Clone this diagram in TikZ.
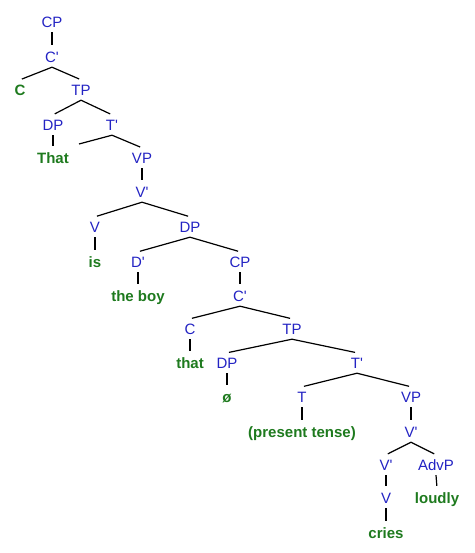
\documentclass[tikz,border=0pt]{standalone}
\usepackage{fontspec}
\setmainfont{Liberation Sans}
\usepackage{tikz}
\usetikzlibrary{calc,positioning}
\definecolor{catblue}{RGB}{35,35,195}
\definecolor{wordgreen}{RGB}{30,122,30}
\newcommand{\bbar}{\textquotesingle}

\begin{document}
\begin{tikzpicture}[x=1pt,y=-1pt]

\tikzset{cat/.style={font=\fontsize{15}{18}\selectfont,text=catblue,inner xsep=1pt,inner ysep=4.5pt,text height=11pt,text depth=0pt},
word/.style={cat,text=wordgreen,font=\fontsize{15}{18}\selectfont\bfseries},
branch/.style={line width=1.2pt,shorten >=2pt}}

\useasboundingbox (0,0) rectangle (474,553);

% upper clause
\node[cat] (cp1) at (52,22) {CP};
\node[cat] (cb1) at (52,57) {C\bbar};
\node[word] (c1) at (20,90) {C};
\node[cat] (tp1) at (81,90) {TP};
\node[cat] (dp1) at (53,125) {DP};
\node[cat] (tb1) at (112,125) {T\bbar};
\node[word] (that1) at (53,158) {That};
\coordinate (tgap) at (79,144);
\node[cat] (vp1) at (142,158) {VP};
\node[cat] (vb1) at (142,192) {V\bbar};
\node[cat] (v1) at (95,227) {V};
\node[cat] (dp2) at (190,227) {DP};
\node[word] (is) at (95,262) {is};
\node[cat] (db2) at (138,262) {D\bbar};
\node[cat] (cp2) at (240,262) {CP};
\node[word] (theboy) at (138,296) {the boy};

% relative clause
\node[cat] (cb2) at (240,296) {C\bbar};
\node[cat] (c2) at (190,329) {C};
\node[cat] (tp2) at (292,329) {TP};
\node[word] (that2) at (190,363) {that};
\node[cat] (dp3) at (227,363) {DP};
\node[cat] (tb2) at (357,363) {T\bbar};
\node[word] (null) at (227,397) {ø};
\node[cat] (t2) at (302,397) {T};
\node[cat] (vp2) at (411,397) {VP};
\node[word] (tense) at (302,432) {(present tense)};
\node[cat] (vb2) at (411,432) {V\bbar};
\node[cat] (vb3) at (386,465) {V\bbar};
\node[cat] (advp) at (436,465) {AdvP};
\node[cat] (v2) at (386,498) {V};
\node[word] (loudly) at (437,498) {loudly};
\node[word] (cries) at (386,533) {cries};

% Edges
\foreach \a/\b in {cp1/cb1,cb1/c1,cb1/tp1,tp1/dp1,tp1/tb1,dp1/that1,tb1/vp1,vp1/vb1,vb1/v1,vb1/dp2,v1/is,dp2/db2,dp2/cp2,db2/theboy,cp2/cb2,
  cb2/c2,cb2/tp2,c2/that2,tp2/dp3,tp2/tb2,dp3/null,tb2/t2,tb2/vp2,t2/tense,vp2/vb2,vb2/vb3,vb2/advp,vb3/v2,advp/loudly,v2/cries}
  \draw[branch] (\a.south) -- (\b.north);
\draw[line width=1.2pt] (tb1.south) -- (tgap);

\end{tikzpicture}
\end{document}
